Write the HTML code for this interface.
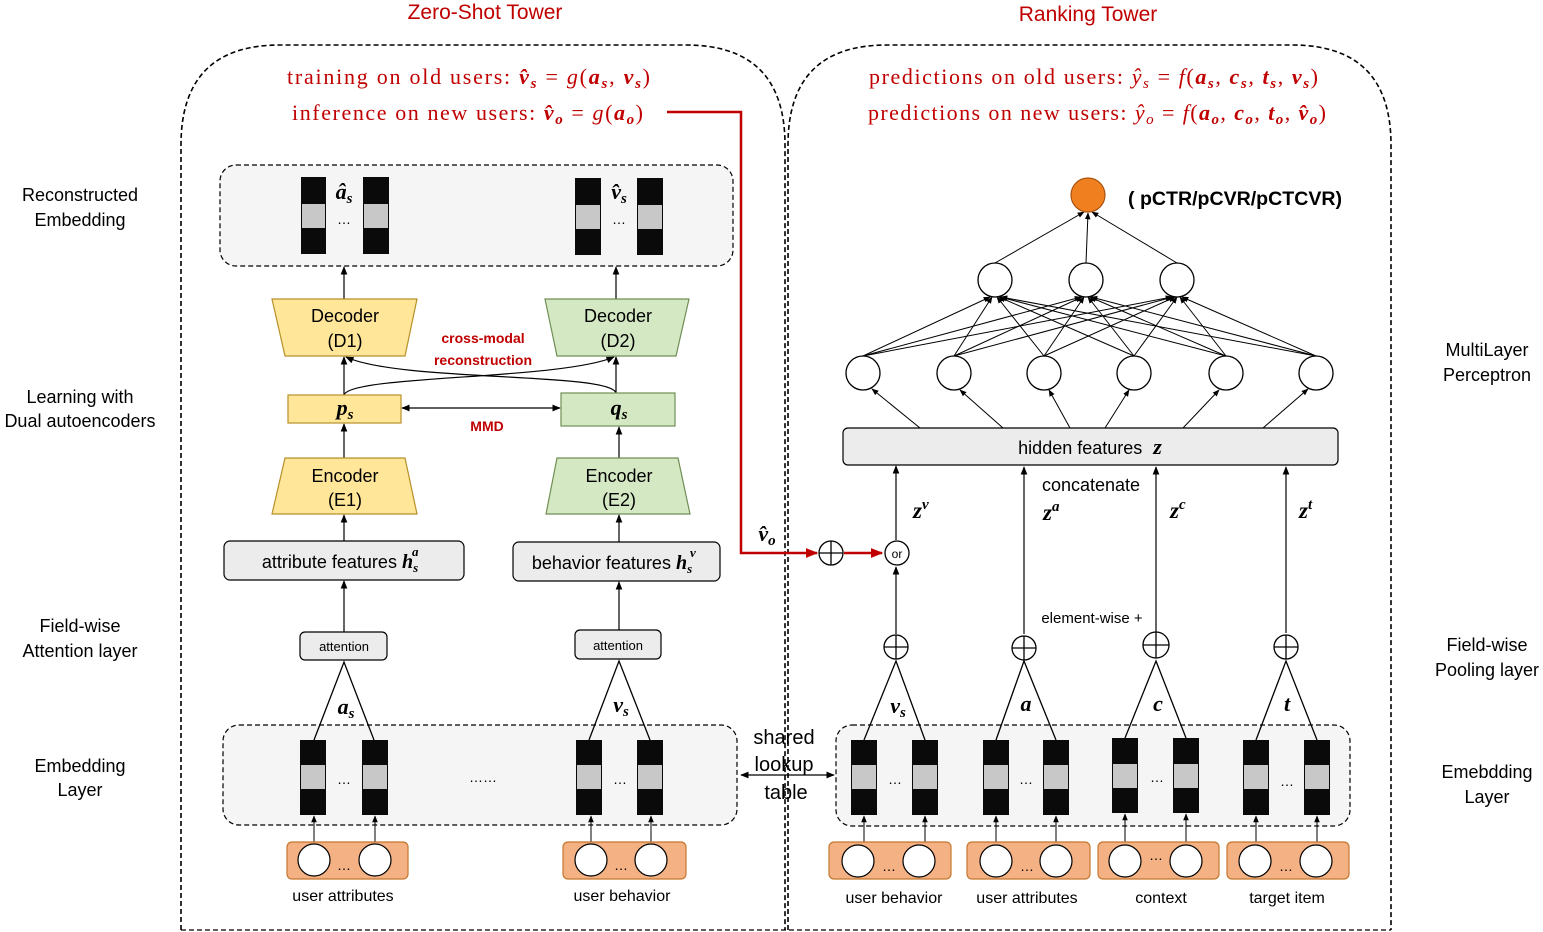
<!DOCTYPE html>
<html><head><meta charset="utf-8"><style>
html,body{margin:0;padding:0;background:#fff}
svg{display:block}
.s{font-family:"Liberation Sans",sans-serif}
.r{font-family:"Liberation Serif",serif}
</style></head><body>
<svg width="1543" height="932" viewBox="0 0 1543 932" xmlns="http://www.w3.org/2000/svg">
<defs>
<marker id="a" viewBox="0 0 10 10" refX="9" refY="5" markerWidth="7" markerHeight="7" orient="auto-start-reverse"><path d="M0,1 L10,5 L0,9 z" fill="#000"/></marker>
<marker id="ar" viewBox="0 0 10 10" refX="9" refY="5" markerWidth="5" markerHeight="5" orient="auto"><path d="M0,1 L10,5 L0,9 z" fill="#c00000"/></marker>
</defs>
<g class="s" font-size="21" fill="#c00000" text-anchor="middle">
<text x="485" y="19">Zero-Shot Tower</text>
<text x="1088" y="21">Ranking Tower</text>
</g>
<!-- towers -->
<path d="M181,930 L181,145 Q181,45 280,45 L686,45 Q785,45 785,145 L785,930" fill="none" stroke="#000" stroke-width="1.6" stroke-dasharray="5,3"/>
<path d="M788,930 L788,145 Q788,45 887,45 L1292,45 Q1391,45 1391,145 L1391,930" fill="none" stroke="#000" stroke-width="1.6" stroke-dasharray="5,3"/>
<line x1="181" y1="930" x2="1391" y2="930" stroke="#000" stroke-width="1.2" stroke-dasharray="5,3"/>
<!-- formulas -->
<g class="r" font-size="22" fill="#c00000">
<text x="287" y="84" textLength="363" lengthAdjust="spacing">training on old users: <tspan font-weight="bold" font-style="italic">v̂<tspan font-size="15" dy="4">s</tspan></tspan><tspan dy="-4"> = </tspan><tspan font-style="italic">g</tspan>(<tspan font-weight="bold" font-style="italic">a<tspan font-size="15" dy="4">s</tspan></tspan><tspan dy="-4">, </tspan><tspan font-weight="bold" font-style="italic">v<tspan font-size="15" dy="4">s</tspan></tspan><tspan dy="-4">)</tspan></text>
<text x="292" y="120" textLength="351" lengthAdjust="spacing">inference on new users: <tspan font-weight="bold" font-style="italic">v̂<tspan font-size="15" dy="4">o</tspan></tspan><tspan dy="-4"> = </tspan><tspan font-style="italic">g</tspan>(<tspan font-weight="bold" font-style="italic">a<tspan font-size="15" dy="4">o</tspan></tspan><tspan dy="-4">)</tspan></text>
<text x="869" y="84" textLength="449" lengthAdjust="spacing">predictions on old users: <tspan font-style="italic">ŷ<tspan font-size="15" dy="4">s</tspan></tspan><tspan dy="-4"> = </tspan><tspan font-style="italic">f</tspan>(<tspan font-weight="bold" font-style="italic">a<tspan font-size="15" dy="4">s</tspan></tspan><tspan dy="-4">, </tspan><tspan font-weight="bold" font-style="italic">c<tspan font-size="15" dy="4">s</tspan></tspan><tspan dy="-4">, </tspan><tspan font-weight="bold" font-style="italic">t<tspan font-size="15" dy="4">s</tspan></tspan><tspan dy="-4">, </tspan><tspan font-weight="bold" font-style="italic">v<tspan font-size="15" dy="4">s</tspan></tspan><tspan dy="-4">)</tspan></text>
<text x="868" y="120" textLength="458" lengthAdjust="spacing">predictions on new users: <tspan font-style="italic">ŷ<tspan font-size="15" dy="4">o</tspan></tspan><tspan dy="-4"> = </tspan><tspan font-style="italic">f</tspan>(<tspan font-weight="bold" font-style="italic">a<tspan font-size="15" dy="4">o</tspan></tspan><tspan dy="-4">, </tspan><tspan font-weight="bold" font-style="italic">c<tspan font-size="15" dy="4">o</tspan></tspan><tspan dy="-4">, </tspan><tspan font-weight="bold" font-style="italic">t<tspan font-size="15" dy="4">o</tspan></tspan><tspan dy="-4">, </tspan><tspan font-weight="bold" font-style="italic">v̂<tspan font-size="15" dy="4">o</tspan></tspan><tspan dy="-4">)</tspan></text>
</g>
<!-- red path -->
<polyline points="667,112 741,112 741,553 817,553" fill="none" stroke="#c00000" stroke-width="2.5" marker-end="url(#ar)"/>
<line x1="844" y1="553" x2="882" y2="553" stroke="#c00000" stroke-width="2.5" marker-end="url(#ar)"/>
<text x="767" y="541" class="r" font-size="22" font-weight="bold" font-style="italic" text-anchor="middle">v̂<tspan font-size="15" dy="4">o</tspan></text>
<circle cx="831" cy="553" r="12" fill="#fff" stroke="#000" stroke-width="1.3"/>
<path d="M819,553 H843 M831,541 V565" stroke="#000" stroke-width="1.3"/>
<!-- side labels -->
<g class="s" font-size="18" fill="#000" text-anchor="middle">
<text x="80" y="201">Reconstructed</text><text x="80" y="226">Embedding</text>
<text x="80" y="403">Learning with</text><text x="80" y="427">Dual autoencoders</text>
<text x="80" y="632">Field-wise</text><text x="80" y="657">Attention layer</text>
<text x="80" y="772">Embedding</text><text x="80" y="796">Layer</text>
<text x="1487" y="356">MultiLayer</text><text x="1487" y="381">Perceptron</text>
<text x="1487" y="651">Field-wise</text><text x="1487" y="676">Pooling layer</text>
<text x="1487" y="778">Emebdding</text><text x="1487" y="803">Layer</text>
</g>
<!-- reconstructed box -->
<rect x="220" y="165" width="513" height="101" rx="16" fill="#f5f5f5" stroke="#000" stroke-width="1.2" stroke-dasharray="5,3"/>
<g fill="#0a0a0a">
<rect x="301" y="177" width="25" height="77"/><rect x="363" y="177" width="26" height="77"/>
<rect x="575" y="178" width="26" height="77"/><rect x="637" y="178" width="26" height="77"/>
</g>
<g fill="#c8c8c8">
<rect x="302" y="204" width="23" height="24"/><rect x="364" y="204" width="24" height="24"/>
<rect x="576" y="205" width="24" height="24"/><rect x="638" y="205" width="24" height="24"/>
</g>
<g class="r" font-size="22" font-weight="bold" font-style="italic" text-anchor="middle">
<text x="344" y="199">â<tspan font-size="15" dy="4">s</tspan></text>
<text x="619" y="199">v̂<tspan font-size="15" dy="4">s</tspan></text>
</g>
<g class="s" font-size="14" text-anchor="middle"><text x="344" y="224">…</text><text x="619" y="224">…</text></g>
<g stroke="#000" stroke-width="1.2" fill="none" marker-end="url(#a)">
<line x1="344" y1="299" x2="344" y2="267"/><line x1="616" y1="299" x2="616" y2="267"/>
<line x1="344" y1="395" x2="344" y2="357"/><line x1="616" y1="393" x2="616" y2="357"/>
<path d="M344,395 C350,375 560,380 614,357"/>
<path d="M616,393 C610,372 400,382 346,357"/>
<line x1="344" y1="458" x2="344" y2="424"/><line x1="619" y1="458" x2="619" y2="427"/>
<line x1="344" y1="541" x2="344" y2="515"/><line x1="619" y1="542" x2="619" y2="515"/>
<line x1="344" y1="632" x2="344" y2="581"/><line x1="619" y1="630" x2="619" y2="582"/>
<line x1="402" y1="408" x2="560" y2="408" marker-start="url(#a)"/>
</g>
<!-- decoders/encoders -->
<polygon points="272,299 417,299 405,356 285,356" fill="#ffe699" stroke="#b8902a" stroke-width="1.2"/>
<polygon points="545,299 689,299 676,356 557,356" fill="#d5e8c4" stroke="#6f8f55" stroke-width="1.2"/>
<polygon points="285,458 405,458 417,514 272,514" fill="#ffe699" stroke="#b8902a" stroke-width="1.2"/>
<polygon points="557,458 678,458 690,514 546,514" fill="#d5e8c4" stroke="#6f8f55" stroke-width="1.2"/>
<g class="s" font-size="18" text-anchor="middle">
<text x="345" y="322">Decoder</text><text x="345" y="347">(D1)</text>
<text x="618" y="322">Decoder</text><text x="618" y="347">(D2)</text>
<text x="345" y="482">Encoder</text><text x="345" y="506">(E1)</text>
<text x="619" y="482">Encoder</text><text x="619" y="506">(E2)</text>
</g>
<g class="s" font-size="14" font-weight="bold" fill="#c00000" text-anchor="middle">
<text x="483" y="343">cross-modal</text><text x="483" y="365">reconstruction</text>
<text x="487" y="431">MMD</text>
</g>
<rect x="288" y="395" width="113" height="28" fill="#ffe699" stroke="#b8902a" stroke-width="1.2"/>
<rect x="561" y="393" width="114" height="33" fill="#d5e8c4" stroke="#6f8f55" stroke-width="1.2"/>
<g class="r" font-size="22" font-weight="bold" font-style="italic" text-anchor="middle">
<text x="345" y="415">p<tspan font-size="15" dy="4">s</tspan></text>
<text x="619" y="415">q<tspan font-size="15" dy="4">s</tspan></text>
</g>
<!-- feature boxes -->
<rect x="224" y="541" width="240" height="39" rx="6" fill="#ececec" stroke="#000" stroke-width="1.2"/>
<rect x="513" y="542" width="207" height="39" rx="6" fill="#ececec" stroke="#000" stroke-width="1.2"/>
<text x="340" y="568" class="s" font-size="18" text-anchor="middle">attribute features <tspan class="r" font-weight="bold" font-style="italic" font-size="20">h<tspan font-size="13" dy="4">s</tspan></tspan></text>
<text x="412" y="556" class="r" font-size="13" font-weight="bold" font-style="italic">a</text>
<text x="612" y="569" class="s" font-size="18" text-anchor="middle">behavior features <tspan class="r" font-weight="bold" font-style="italic" font-size="20">h<tspan font-size="13" dy="4">s</tspan></tspan></text>
<text x="690" y="557" class="r" font-size="13" font-weight="bold" font-style="italic">v</text>
<rect x="300" y="632" width="87" height="28" rx="5" fill="#ececec" stroke="#000" stroke-width="1.2"/>
<rect x="575" y="630" width="86" height="29" rx="5" fill="#ececec" stroke="#000" stroke-width="1.2"/>
<g class="s" font-size="13" text-anchor="middle"><text x="344" y="651">attention</text><text x="618" y="650">attention</text></g>
<!-- left embedding -->
<rect x="223" y="725" width="514" height="100" rx="16" fill="#f5f5f5" stroke="#000" stroke-width="1.2" stroke-dasharray="5,3"/>
<g stroke="#000" stroke-width="1.3" fill="none">
<polyline points="314,740 344,662 374,740"/>
<polyline points="589,740 619,661 650,740"/>
</g>
<g class="r" font-size="22" font-weight="bold" font-style="italic" text-anchor="middle">
<text x="346" y="714">a<tspan font-size="15" dy="4">s</tspan></text>
<text x="621" y="712">v<tspan font-size="15" dy="4">s</tspan></text>
</g>
<g fill="#0a0a0a">
<rect x="300" y="740" width="26" height="75"/><rect x="362" y="740" width="26" height="75"/>
<rect x="576" y="740" width="26" height="75"/><rect x="637" y="740" width="26" height="75"/>
</g>
<g fill="#c8c8c8">
<rect x="301" y="765" width="24" height="24"/><rect x="363" y="765" width="24" height="24"/>
<rect x="577" y="765" width="24" height="24"/><rect x="638" y="765" width="24" height="24"/>
</g>
<g class="s" font-size="14" text-anchor="middle"><text x="344" y="784">…</text><text x="483" y="782">……</text><text x="620" y="784">…</text></g>
<g stroke="#000" stroke-width="1" marker-end="url(#a)">
<line x1="314" y1="845" x2="314" y2="816"/><line x1="375" y1="845" x2="375" y2="816"/>
<line x1="591" y1="845" x2="591" y2="816"/><line x1="651" y1="845" x2="651" y2="816"/>
</g>
<rect x="287" y="842" width="121" height="37" rx="5" fill="#f4b183" stroke="#c5772f" stroke-width="1.2"/>
<rect x="563" y="842" width="123" height="37" rx="5" fill="#f4b183" stroke="#c5772f" stroke-width="1.2"/>
<g fill="#fff" stroke="#000" stroke-width="1.2">
<circle cx="314" cy="860" r="16"/><circle cx="375" cy="860" r="16"/>
<circle cx="591" cy="860" r="16"/><circle cx="651" cy="860" r="16"/>
</g>
<g class="s" font-size="14" text-anchor="middle"><text x="344" y="870">…</text><text x="621" y="870">…</text></g>
<g class="s" font-size="16" text-anchor="middle"><text x="343" y="901">user attributes</text><text x="622" y="901">user behavior</text></g>
<!-- shared lookup -->
<g class="s" font-size="20" text-anchor="middle"><text x="784" y="744">shared</text><text x="784" y="771">lookup</text><text x="786" y="799">table</text></g>
<line x1="741" y1="775" x2="834" y2="775" stroke="#000" stroke-width="1.2" marker-start="url(#a)" marker-end="url(#a)"/>
<!-- right embedding -->
<rect x="836" y="725" width="514" height="101" rx="16" fill="#f5f5f5" stroke="#000" stroke-width="1.2" stroke-dasharray="5,3"/>
<g fill="#0a0a0a">
<rect x="851" y="740" width="26" height="75"/><rect x="912" y="740" width="26" height="75"/>
<rect x="983" y="740" width="26" height="75"/><rect x="1043" y="740" width="26" height="75"/>
<rect x="1112" y="738" width="26" height="75"/><rect x="1173" y="738" width="26" height="75"/>
<rect x="1243" y="740" width="26" height="75"/><rect x="1304" y="740" width="26" height="75"/>
</g>
<g fill="#c8c8c8">
<rect x="852" y="765" width="24" height="24"/><rect x="913" y="765" width="24" height="24"/>
<rect x="984" y="765" width="24" height="24"/><rect x="1044" y="765" width="24" height="24"/>
<rect x="1113" y="764" width="24" height="24"/><rect x="1174" y="764" width="24" height="24"/>
<rect x="1244" y="765" width="24" height="24"/><rect x="1305" y="765" width="24" height="24"/>
</g>
<g class="s" font-size="14" text-anchor="middle"><text x="895" y="784">…</text><text x="1026" y="784">…</text><text x="1157" y="782">…</text><text x="1287" y="786">…</text></g>
<g stroke="#000" stroke-width="1.3" fill="none">
<polyline points="864,740 896,661 925,740"/>
<polyline points="996,740 1024,661 1056,740"/>
<polyline points="1125,738 1156,661 1186,738"/>
<polyline points="1256,740 1286,661 1317,740"/>
</g>
<g class="r" font-size="22" font-weight="bold" font-style="italic" text-anchor="middle">
<text x="898" y="713">v<tspan font-size="15" dy="4">s</tspan></text>
<text x="1026" y="711">a</text><text x="1158" y="711">c</text><text x="1287" y="711">t</text>
</g>
<g stroke="#000" stroke-width="1" marker-end="url(#a)">
<line x1="864" y1="845" x2="864" y2="816"/><line x1="925" y1="845" x2="925" y2="816"/>
<line x1="996" y1="845" x2="996" y2="816"/><line x1="1056" y1="845" x2="1056" y2="816"/>
<line x1="1125" y1="845" x2="1125" y2="814" marker-end=""/><line x1="1186" y1="845" x2="1186" y2="814"/>
<line x1="1256" y1="845" x2="1256" y2="816" marker-end=""/><line x1="1317" y1="845" x2="1317" y2="816"/>
</g>
<g fill="#f4b183" stroke="#c5772f" stroke-width="1.2">
<rect x="829" y="842" width="122" height="37" rx="5"/><rect x="967" y="842" width="123" height="37" rx="5"/>
<rect x="1098" y="842" width="121" height="37" rx="5"/><rect x="1227" y="842" width="122" height="37" rx="5"/>
</g>
<g fill="#fff" stroke="#000" stroke-width="1.2">
<circle cx="858" cy="861" r="16"/><circle cx="919" cy="861" r="16"/>
<circle cx="996" cy="861" r="16"/><circle cx="1056" cy="861" r="16"/>
<circle cx="1125" cy="861" r="16"/><circle cx="1186" cy="861" r="16"/>
<circle cx="1255" cy="861" r="16"/><circle cx="1316" cy="861" r="16"/>
</g>
<g class="s" font-size="14" text-anchor="middle"><text x="889" y="871">…</text><text x="1027" y="871">…</text><text x="1156" y="860">…</text><text x="1286" y="871">…</text></g>
<g class="s" font-size="16" text-anchor="middle"><text x="894" y="903">user behavior</text><text x="1027" y="903">user attributes</text><text x="1161" y="903">context</text><text x="1287" y="903">target item</text></g>
<!-- pooling plus circles -->
<g stroke="#000" stroke-width="1.2" fill="none" marker-end="url(#a)">
<line x1="896" y1="634" x2="896" y2="567"/>
<line x1="896" y1="540" x2="896" y2="466"/>
<line x1="1024" y1="634" x2="1024" y2="467"/>
<line x1="1156" y1="633" x2="1156" y2="467"/>
<line x1="1286" y1="633" x2="1286" y2="467"/>
</g>
<g fill="#fff" stroke="#000" stroke-width="1.3">
<circle cx="896" cy="647" r="12"/><circle cx="1024" cy="648" r="12"/><circle cx="1156" cy="645" r="13"/><circle cx="1286" cy="647" r="12"/>
</g>
<path d="M884,647 H908 M896,635 V659 M1012,648 H1036 M1024,636 V660 M1143,645 H1169 M1156,632 V658 M1274,647 H1298 M1286,635 V659" stroke="#000" stroke-width="1.3"/>
<circle cx="897" cy="553" r="12" fill="#fff" stroke="#000" stroke-width="1.3"/>
<text x="897" y="558" class="s" font-size="12" text-anchor="middle">or</text>
<g class="s" font-size="15" text-anchor="middle"><text x="1092" y="623">element-wise +</text></g>
<g class="s" font-size="18" text-anchor="middle"><text x="1091" y="491">concatenate</text></g>
<g class="r" font-size="23" font-weight="bold" font-style="italic">
<text x="913" y="518">z<tspan font-size="15" dy="-9">v</tspan></text>
<text x="1043" y="520">z<tspan font-size="15" dy="-9">a</tspan></text>
<text x="1170" y="518">z<tspan font-size="15" dy="-9">c</tspan></text>
<text x="1299" y="518">z<tspan font-size="15" dy="-9">t</tspan></text>
</g>
<!-- hidden features -->
<rect x="843" y="428" width="495" height="37" rx="5" fill="#ececec" stroke="#000" stroke-width="1.2"/>
<text x="1090" y="454" class="s" font-size="18" text-anchor="middle">hidden features <tspan class="r" font-weight="bold" font-style="italic" font-size="22" dx="6">z</tspan></text>
<!-- MLP -->
<g stroke="#000" stroke-width="1" fill="none" marker-end="url(#a)">
<line x1="920" y1="428" x2="872" y2="389"/>
<line x1="1003" y1="428" x2="960" y2="390"/>
<line x1="1070" y1="428" x2="1049" y2="390"/>
<line x1="1105" y1="428" x2="1129" y2="390"/>
<line x1="1183" y1="428" x2="1219" y2="390"/>
<line x1="1263" y1="428" x2="1308" y2="389"/>
</g>
<g stroke="#000" stroke-width="1" fill="none" marker-end="url(#a)">
<line x1="863" y1="356" x2="990" y2="297"/><line x1="863" y1="356" x2="1081" y2="297"/><line x1="863" y1="356" x2="1172" y2="297"/>
<line x1="954" y1="356" x2="992" y2="297"/><line x1="954" y1="356" x2="1082" y2="297"/><line x1="954" y1="356" x2="1173" y2="297"/>
<line x1="1044" y1="356" x2="997" y2="297"/><line x1="1044" y1="356" x2="1084" y2="297"/><line x1="1044" y1="356" x2="1175" y2="297"/>
<line x1="1134" y1="356" x2="999" y2="297"/><line x1="1134" y1="356" x2="1088" y2="297"/><line x1="1134" y1="356" x2="1177" y2="297"/>
<line x1="1226" y1="356" x2="1000" y2="297"/><line x1="1226" y1="356" x2="1090" y2="297"/><line x1="1226" y1="356" x2="1180" y2="297"/>
<line x1="1316" y1="356" x2="1001" y2="297"/><line x1="1316" y1="356" x2="1091" y2="297"/><line x1="1316" y1="356" x2="1182" y2="297"/>
<line x1="995" y1="263" x2="1084" y2="212"/><line x1="1086" y1="263" x2="1088" y2="213"/><line x1="1177" y1="263" x2="1092" y2="212"/>
</g>
<g fill="#fff" stroke="#000" stroke-width="1.3">
<circle cx="863" cy="373" r="17"/><circle cx="954" cy="373" r="17"/><circle cx="1044" cy="373" r="17"/>
<circle cx="1134" cy="373" r="17"/><circle cx="1226" cy="373" r="17"/><circle cx="1316" cy="373" r="17"/>
<circle cx="995" cy="280" r="17"/><circle cx="1086" cy="280" r="17"/><circle cx="1177" cy="280" r="17"/>
</g>
<circle cx="1088" cy="195" r="17" fill="#f07f1f" stroke="#a85412" stroke-width="1.2"/>
<text x="1128" y="205" class="s" font-size="19" font-weight="bold" textLength="214" lengthAdjust="spacingAndGlyphs">( pCTR/pCVR/pCTCVR)</text>
</svg>
</body></html>
